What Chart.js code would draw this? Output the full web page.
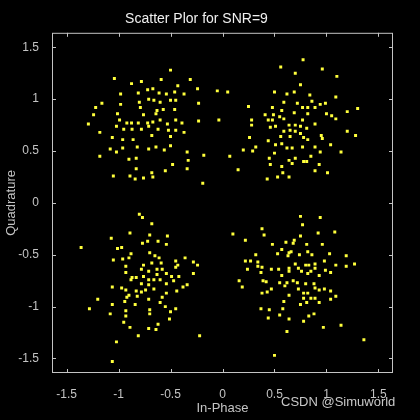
<!DOCTYPE html>
<html>
<head>
<meta charset="utf-8">
<script src="https://cdn.jsdelivr.net/npm/chart.js@4/dist/chart.umd.min.js"></script>
<style>
  html, body { margin: 0; padding: 0; background: #000; }
  #wrap { position: relative; width: 420px; height: 420px; }
  #marca { position: absolute; left: 281px; top: 394px; color: #c8c8c8;
           font: 13px "Liberation Sans", Arial, sans-serif; }
</style>
</head>
<body>
<div id="wrap">
  <canvas id="scatterChart" width="420" height="420"></canvas>
  <div id="marca">CSDN @Simuworld</div>
</div>
<script>
// Puntos (In-Phase, Quadrature), un arreglo por cuadrante
const cuadrante1 = [
  [-1.04,1.20],[-0.50,1.28],[-0.875,1.15],[-0.78,1.17],[-0.59,1.19],[-0.43,1.13],[-0.31,1.19],[-0.24,1.10],[-0.05,1.08],
  [-0.98,1.05],[-0.81,1.06],[-0.72,1.09],[-0.67,1.10],[-0.61,1.06],[-0.54,1.05],[-0.46,1.07],[-0.37,1.05],
  [-1.16,0.96],[-1.22,0.92],[-0.98,0.95],[-0.80,0.97],[-0.71,1.00],[-0.66,0.99],[-0.60,0.97],[-0.50,0.99],[-0.45,0.99],[-0.23,0.96],
  [-1.24,0.85],[-1.01,0.86],[-0.79,0.92],[-0.63,0.89],[-0.57,0.90],[-0.46,0.90],[-0.76,0.85],[-0.64,0.86],
  [-0.99,0.80],[-0.92,0.77],[-0.875,0.77],[-0.81,0.77],[-0.72,0.77],[-0.67,0.78],[-0.60,0.80],[-0.53,0.76],[-0.45,0.80],[-0.39,0.77],[-0.23,0.79],[-0.035,0.80],
  [-1.29,0.76],[-1.02,0.74],[-0.95,0.71],[-0.87,0.71],[-0.78,0.71],[-0.71,0.74],[-0.62,0.71],[-0.52,0.70],[-0.45,0.70],[-0.37,0.68],
  [-1.18,0.68],[-1.06,0.63],[-0.96,0.61],[-0.86,0.61],[-0.68,0.65],[-0.50,0.64],
  [-1.08,0.52],[-1.02,0.49],[-0.96,0.53],[-0.82,0.54],[-0.71,0.52],[-0.64,0.54],[-0.56,0.51],[-0.50,0.55],[-0.34,0.49],
  [-1.18,0.45],[-0.90,0.42],[-0.83,0.43],[-0.48,0.37],[-0.33,0.41],[-0.18,0.46],
  [-0.83,0.33],[-0.68,0.29],[-0.55,0.31],[-0.34,0.33],[-1.05,0.26],[-0.89,0.26],[-0.84,0.23],[-0.76,0.24],[-0.67,0.25],[-0.19,0.19]
];
const cuadrante2 = [
  [0.775,1.38],[0.56,1.31],[0.96,1.29],[0.70,1.25],[1.10,1.22],[0.75,1.14],[0.05,1.07],[0.50,1.07],[0.62,1.05],[0.69,1.07],[0.84,1.04],[1.09,1.02],
  [0.59,0.97],[0.72,0.96],[0.86,0.98],[0.25,0.93],[0.48,0.92],[0.57,0.89],[0.77,0.92],[0.82,0.92],[0.89,0.92],[0.94,0.95],[0.99,0.96],[1.20,0.88],[1.30,0.91],
  [0.41,0.85],[0.49,0.85],[0.55,0.83],[0.69,0.87],[0.82,0.86],[1.00,0.86],[1.05,0.84],[1.09,0.81],
  [0.28,0.80],[0.44,0.80],[0.48,0.80],[0.59,0.81],[0.77,0.80],[0.28,0.75],[0.46,0.73],[0.51,0.74],[0.64,0.75],[0.70,0.75],[0.75,0.74],[0.89,0.76],
  [0.65,0.70],[0.81,0.72],[0.59,0.69],[0.70,0.69],[0.75,0.67],[1.20,0.69],[1.28,0.65],
  [0.26,0.63],[0.44,0.60],[0.56,0.64],[0.65,0.64],[0.78,0.63],[0.82,0.61],[0.95,0.65],[0.96,0.62],[1.04,0.56],
  [0.51,0.56],[0.57,0.57],[0.62,0.53],[0.67,0.53],[0.77,0.54],[0.89,0.54],[0.20,0.51],[0.29,0.50],[0.32,0.54],
  [0.50,0.48],[0.94,0.49],[1.14,0.49],[0.07,0.45],[0.45,0.43],[0.64,0.41],[0.70,0.43],[0.78,0.40],[0.85,0.45],[0.81,0.40],
  [0.46,0.37],[0.57,0.35],[0.67,0.38],[0.93,0.37],[0.15,0.32],[0.89,0.31],[1.01,0.29],[0.58,0.29],[0.53,0.25],[0.64,0.25],[0.43,0.23]
];
const cuadrante3 = [
  [-0.80,-0.11],[-0.77,-0.14],[-0.68,-0.20],[-1.07,-0.34],[-0.89,-0.29],[-0.70,-0.31],[-0.53,-0.32],[-0.77,-0.39],[-0.72,-0.37],[-0.62,-0.37],[-0.54,-0.40],
  [-1.36,-0.43],[-1.01,-0.44],[-0.97,-0.43],[-0.88,-0.49],[-0.70,-0.48],[-0.65,-0.51],[-0.61,-0.53],
  [-1.05,-0.55],[-0.96,-0.54],[-0.90,-0.53],[-0.45,-0.56],[-0.36,-0.53],[-0.28,-0.57],[-0.76,-0.60],[-0.68,-0.58],[-0.59,-0.58],[-0.43,-0.60],[-0.93,-0.61],[-0.24,-0.60],
  [-0.78,-0.64],[-0.71,-0.66],[-0.63,-0.64],[-0.58,-0.64],[-0.45,-0.62],[-0.93,-0.67],[-0.54,-0.68],[-0.76,-0.71],[-0.63,-0.69],[-0.49,-0.71],[-0.42,-0.71],[-0.28,-0.68],
  [-0.87,-0.72],[-0.83,-0.72],[-0.88,-0.74],[-0.71,-0.74],[-0.66,-0.74],[-0.60,-0.74],[-0.47,-0.75],[-0.78,-0.78],[-0.71,-0.79],[-0.54,-0.78],[-0.38,-0.81],[-0.34,-0.79],
  [-1.06,-0.81],[-0.97,-0.82],[-0.93,-0.84],[-0.83,-0.85],[-0.78,-0.86],[-0.66,-0.83],[-0.74,-0.84],[-0.44,-0.85],[-0.90,-0.89],[-0.82,-0.90],[-0.54,-0.87],
  [-0.92,-0.91],[-0.71,-0.93],[-0.58,-0.91],[-1.20,-0.93],[-0.94,-0.95],[-0.84,-0.98],[-0.60,-0.96],[-1.28,-1.02],[-1.06,-0.98],[-0.70,-1.03],[-0.55,-1.00],[-0.45,-1.02],
  [-1.08,-1.07],[-0.93,-1.04],[-0.70,-1.07],[-0.50,-1.05],[-0.93,-1.09],[-0.51,-1.12],[-0.95,-1.15],[-0.89,-1.20],[-0.62,-1.17],[-0.71,-1.21],[-0.64,-1.22],
  [-0.81,-1.28],[-0.22,-1.28],[-1.02,-1.34],[-1.06,-1.53]
];
const cuadrante4 = [
  [0.75,-0.13],[0.94,-0.14],[0.77,-0.21],[0.38,-0.25],[1.08,-0.28],[0.10,-0.30],[0.40,-0.31],[0.75,-0.32],[0.92,-0.29],[0.22,-0.36],[0.69,-0.36],[0.61,-0.38],
  [0.48,-0.40],[0.81,-0.40],[0.96,-0.40],[0.68,-0.39],[0.57,-0.45],[0.53,-0.49],[0.64,-0.48],[0.66,-0.47],[0.63,-0.51],[0.74,-0.50],[0.82,-0.47],[0.86,-0.50],[1.03,-0.49],[1.19,-0.51],[0.32,-0.50],
  [0.22,-0.56],[0.27,-0.56],[0.34,-0.57],[0.70,-0.59],[0.83,-0.60],[0.89,-0.59],[0.98,-0.56],[1.09,-0.60],[1.27,-0.59],[1.19,-0.61],
  [0.24,-0.64],[0.34,-0.61],[0.38,-0.62],[0.47,-0.64],[0.54,-0.64],[0.64,-0.63],[0.73,-0.63],[0.80,-0.60],[0.89,-0.63],[0.37,-0.67],[0.64,-0.66],[0.76,-0.66],[0.82,-0.68],[0.85,-0.66],[0.99,-0.65],[1.04,-0.67],
  [0.57,-0.70],[0.93,-0.70],[0.16,-0.75],[0.39,-0.75],[0.42,-0.76],[0.55,-0.77],[0.62,-0.77],[0.68,-0.75],[0.72,-0.77],[0.80,-0.78],[0.88,-0.78],
  [0.19,-0.81],[0.47,-0.83],[0.60,-0.80],[0.73,-0.83],[0.89,-0.82],[0.93,-0.84],[0.98,-0.83],[1.04,-0.85],[0.38,-0.87],[0.43,-0.86],[0.64,-0.89],[0.78,-0.87],[0.82,-0.87],[1.09,-0.90],
  [0.78,-0.92],[0.85,-0.92],[0.89,-0.92],[1.04,-0.93],[0.59,-0.95],[0.81,-0.96],[0.93,-0.96],[0.75,-0.98],[0.37,-1.02],[0.45,-1.03],[0.58,-1.02],
  [0.55,-1.08],[0.83,-1.09],[0.88,-1.07],[0.44,-1.11],[0.64,-1.12],[0.78,-1.14],[0.97,-1.20],[1.14,-1.18],[0.62,-1.24],[1.36,-1.32],[0.50,-1.47]
];
const ticksEjes = [-1.5, -1, -0.5, 0, 0.5, 1, 1.5];

const puntos = [...cuadrante1, ...cuadrante2, ...cuadrante3, ...cuadrante4].map(p => ({ x: p[0], y: p[1] }));

const gris = '#c4c4c4';
const fuente = '"Liberation Sans", Arial, sans-serif';

// Caja alrededor del área y marcas hacia adentro (estilo MATLAB)
const cajaPlugin = {
  id: 'caja',
  afterDatasetsDraw(chart) {
    const { ctx, chartArea: a, scales } = chart;
    ctx.save();
    ctx.strokeStyle = gris;
    ctx.lineWidth = 1;
    ctx.strokeRect(a.left + 0.5, a.top + 0.5, a.right - a.left - 1, a.bottom - a.top - 1);
    ctx.beginPath();
    ticksEjes.forEach(v => {
      const px = Math.round(scales.x.getPixelForValue(v)) + 0.5;
      ctx.moveTo(px, a.bottom); ctx.lineTo(px, a.bottom - 4);
      ctx.moveTo(px, a.top); ctx.lineTo(px, a.top + 4);
      const py = Math.round(scales.y.getPixelForValue(v)) + 0.5;
      ctx.moveTo(a.left, py); ctx.lineTo(a.left + 4, py);
      ctx.moveTo(a.right, py); ctx.lineTo(a.right - 4, py);
    });
    ctx.stroke();
    ctx.restore();
  }
};

const ctx = document.getElementById('scatterChart').getContext('2d');
new Chart(ctx, {
  type: 'scatter',
  data: {
    datasets: [{
      data: puntos,
      pointStyle: 'rect',
      pointRadius: 2.1,
      backgroundColor: '#ffff3c',
      borderColor: '#ffff3c',
      borderWidth: 0
    }]
  },
  options: {
    responsive: false,
    animation: false,
    layout: { padding: { left: 0, right: 27, top: 0, bottom: 0 } },
    plugins: {
      legend: { display: false },
      tooltip: { enabled: false },
      title: {
        display: true,
        text: 'Scatter Plor for SNR=9',
        color: '#f0f0f0',
        font: { family: fuente, size: 14, weight: 'normal' },
        padding: { top: 11, bottom: 5 }
      }
    },
    scales: {
      x: {
        type: 'linear', min: -1.64, max: 1.64,
        afterBuildTicks: s => { s.ticks = ticksEjes.map(v => ({ value: v })); },
        afterFit: s => { s.height = 47; },
        grid: { display: false },
        border: { display: false },
        ticks: { color: gris, font: { family: fuente, size: 12 }, padding: 6, maxRotation: 0,
                 callback: v => String(v) },
        title: { display: true, text: 'In-Phase', color: gris, font: { family: fuente, size: 13 }, padding: { top: 2 } }
      },
      y: {
        type: 'linear', min: -1.64, max: 1.64,
        afterBuildTicks: s => { s.ticks = ticksEjes.map(v => ({ value: v })); },
        afterFit: s => { s.width = 52; },
        grid: { display: false },
        border: { display: false },
        ticks: { color: gris, font: { family: fuente, size: 12 }, padding: 5,
                 callback: v => String(v) },
        title: { display: true, text: 'Quadrature', color: gris, font: { family: fuente, size: 13 }, padding: { bottom: 2 } }
      }
    }
  },
  plugins: [cajaPlugin]
});
</script>
</body>
</html>
